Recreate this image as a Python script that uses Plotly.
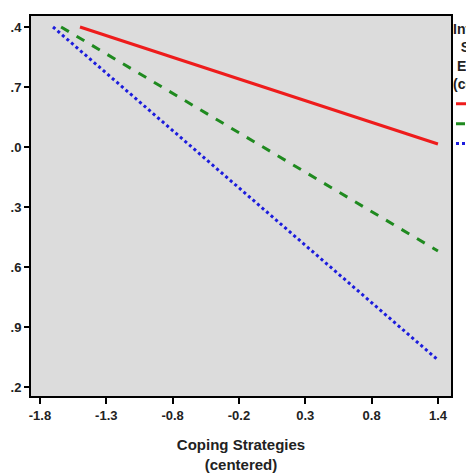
import plotly.graph_objects as go

series_names = ["", "", ""]
x_start = [-1.478, -1.63, -1.695]
y_start = [-0.4, -0.4, -0.4]
x_end = [1.4, 1.4, 1.4]
y_end = [-0.985, -1.52, -2.065]
colors = ["#ee1c1c", "#1f8a1f", "#1c1cdd"]
dashes = ["solid", "dash", "dot"]

x_tickvals = [-1.8 + i * 3.2 / 6 for i in range(7)]
x_ticktext = ["-1.8", "-1.3", "-0.8", "-0.2", "0.3", "0.8", "1.4"]
y_tickvals = [-0.4, -0.7, -1.0, -1.3, -1.6, -1.9, -2.2]
y_ticktext = [".4", ".7", ".0", ".3", ".6", ".9", ".2"]

fig = go.Figure()
for i in range(3):
    fig.add_trace(go.Scatter(x=[x_start[i], x_end[i]], y=[y_start[i], y_end[i]], mode="lines",
                             name=series_names[i], line=dict(color=colors[i], dash=dashes[i], width=3)))

tf = dict(size=13, family="Liberation Sans, Arial", color="#222", weight="bold")
fig.update_layout(
    width=474, height=474, paper_bgcolor="white", plot_bgcolor="#dcdcdc",
    margin=dict(l=23, r=31, t=8, b=86, autoexpand=False),
    font=dict(family="Liberation Sans, Arial", size=13, color="#222"),
    xaxis=dict(range=[-1.872, 1.505], tickvals=x_tickvals, ticktext=x_ticktext, showgrid=False,
               zeroline=False, showline=True, linecolor="black", linewidth=2, mirror=True,
               ticks="outside", ticklen=6, tickwidth=2, tickcolor="black", tickfont=tf,
               title=dict(text="<b>Coping Strategies<br>(centered)</b>", standoff=18,
                          font=dict(size=15, family="Liberation Sans, Arial", color="#222"))),
    yaxis=dict(range=[-2.245, -0.345], tickvals=y_tickvals, ticktext=y_ticktext, showgrid=False,
               zeroline=False, showline=True, linecolor="black", linewidth=2, mirror=True,
               ticks="outside", ticklen=5, tickwidth=2, tickcolor="black", tickfont=tf),
    legend=dict(x=1.0, xanchor="left", y=1.0, yanchor="top", bgcolor="rgba(0,0,0,0)",
                title=dict(text="<b>Inte<br>  S<br> E<br>(ce</b>", side="top",
                           font=dict(size=14, family="Liberation Sans, Arial")),
                tracegroupgap=0, itemwidth=30),
)
fig.write_html("out.html")
